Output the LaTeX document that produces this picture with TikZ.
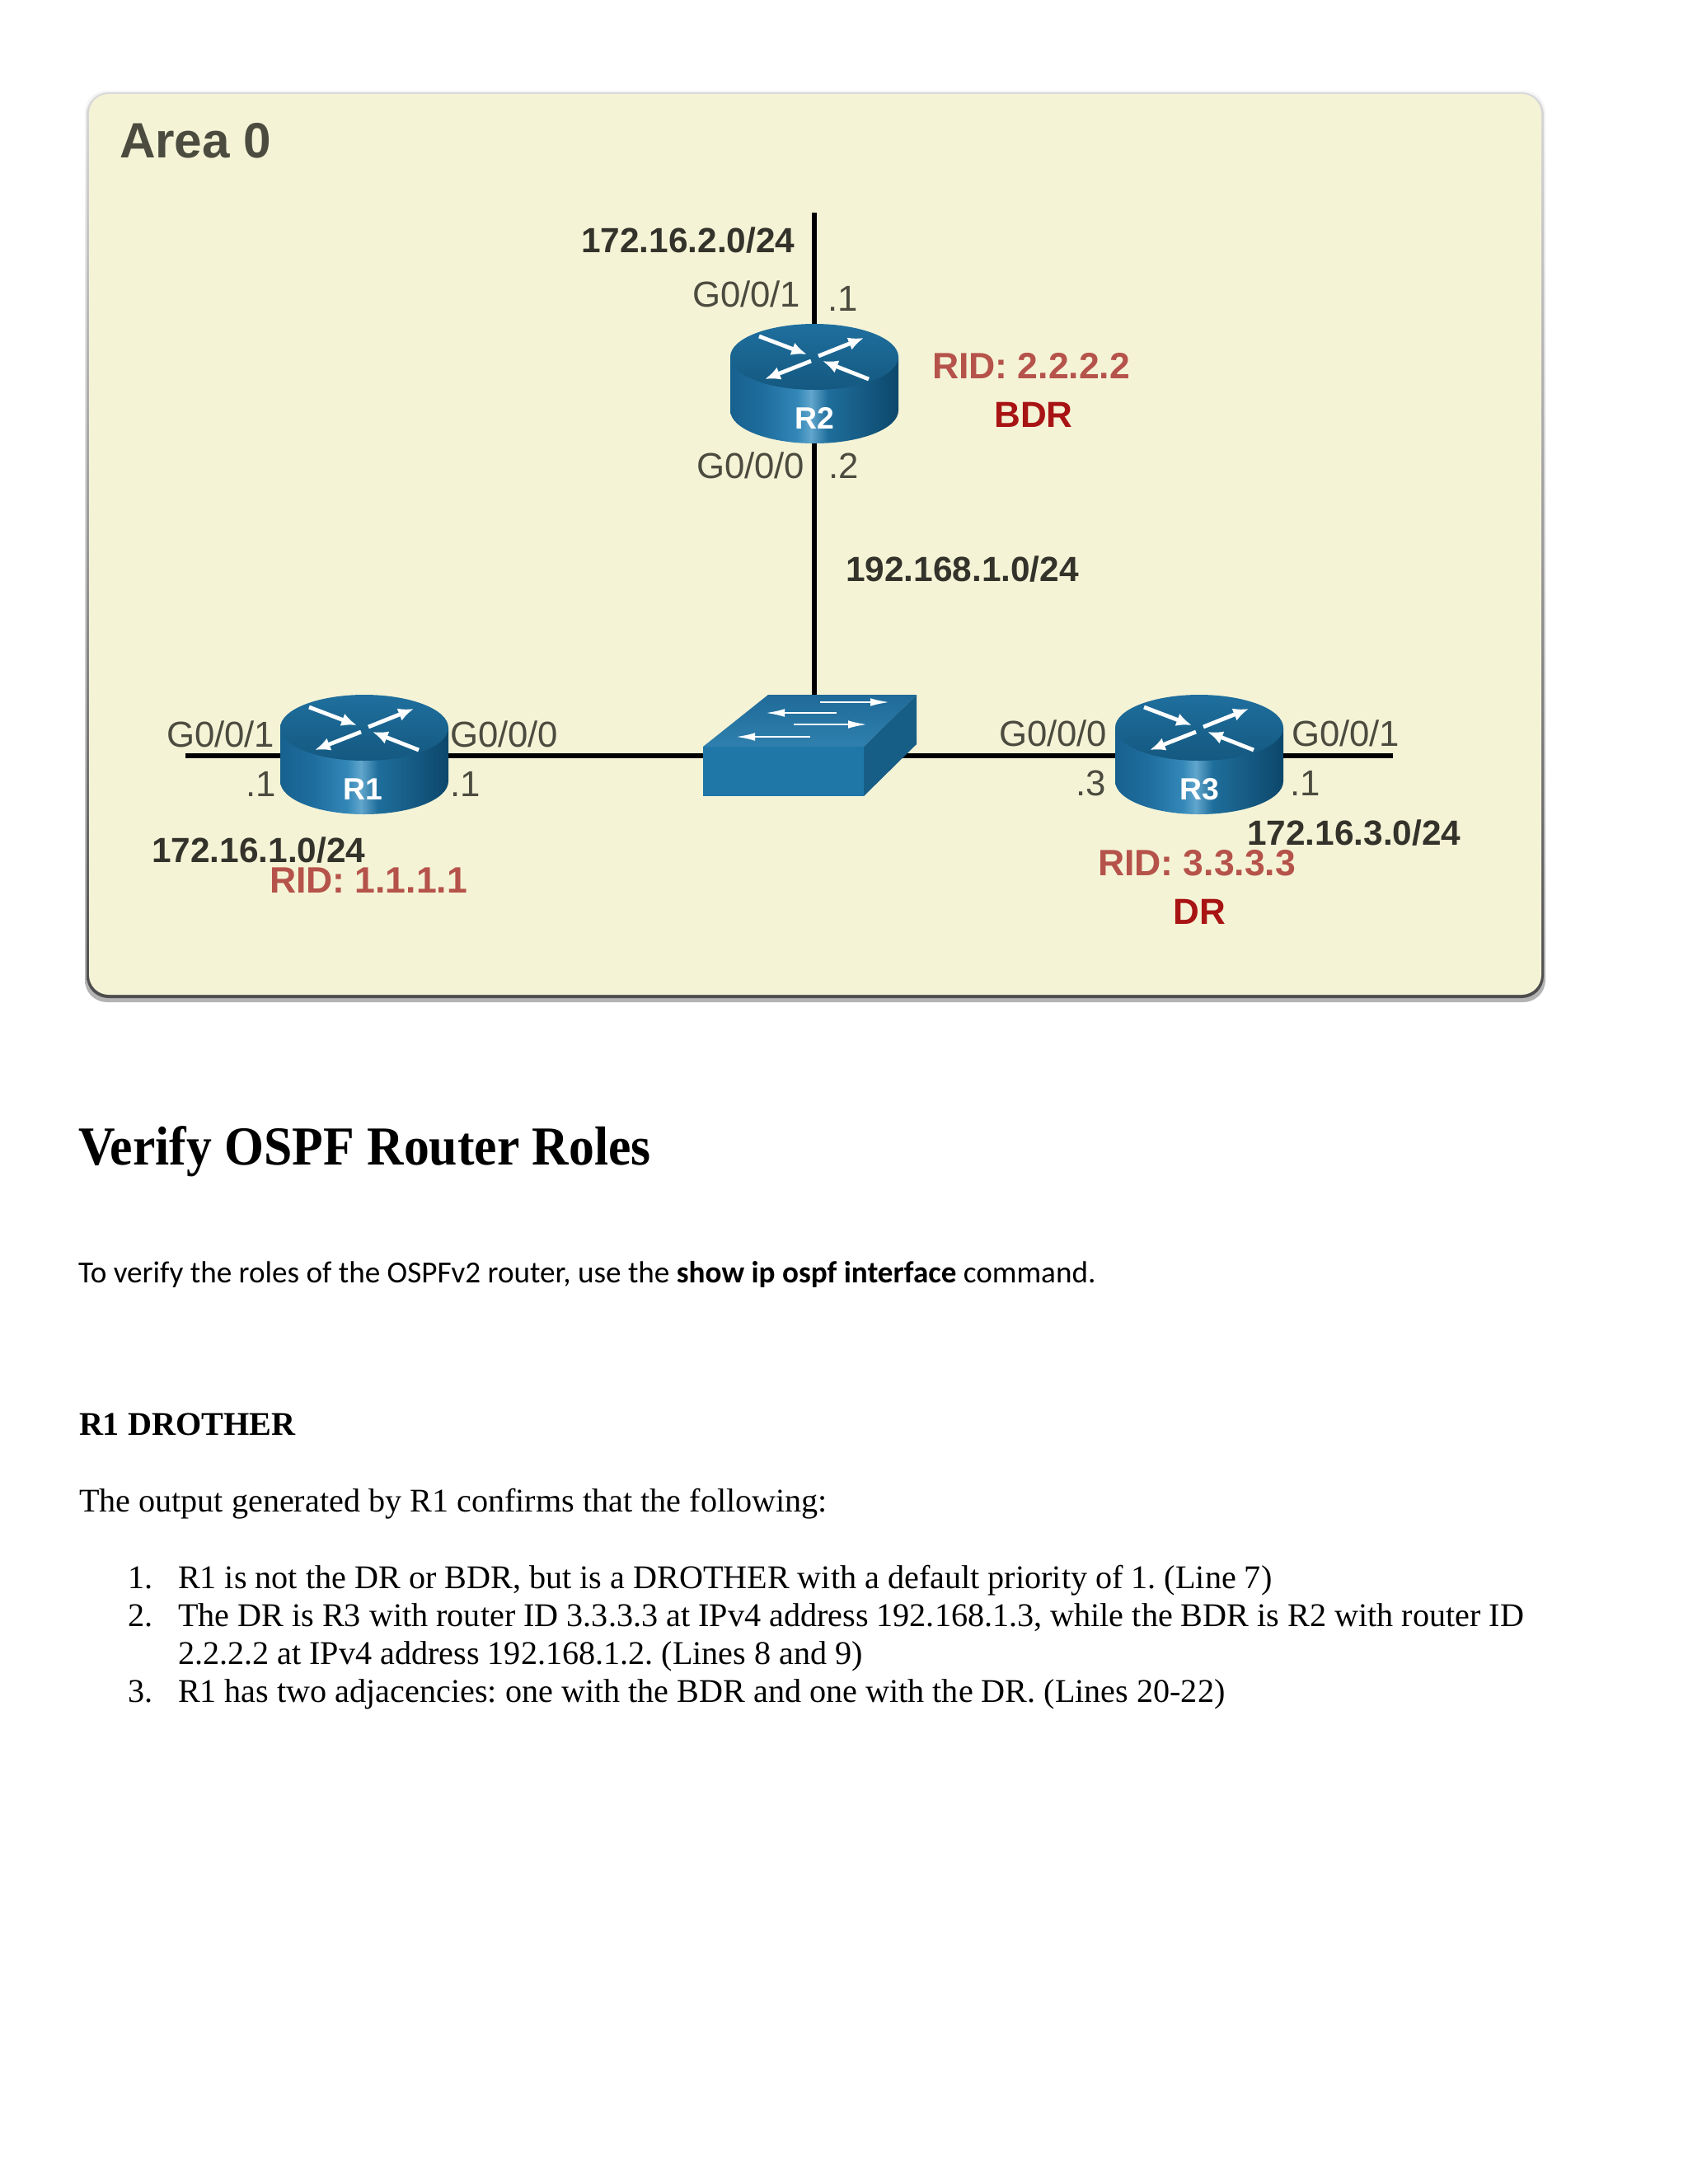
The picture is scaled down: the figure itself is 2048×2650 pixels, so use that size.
\documentclass[tikz,border=0pt]{standalone}
\usepackage{fontspec}
\setmainfont{Liberation Serif}
\newfontfamily\diagfont{Liberation Sans}
\newfontfamily\bodyfont{Carlito}
\newfontfamily\headfont[FakeStretch=0.925]{Liberation Serif}
\usetikzlibrary{arrows.meta}
\definecolor{panelc}{HTML}{F5F3D6}
\definecolor{ink}{HTML}{4B4B3F}
\definecolor{inkb}{HTML}{33332B}
\definecolor{ridc}{HTML}{B5534B}
\definecolor{rolec}{HTML}{A81414}
\definecolor{blued}{HTML}{0F4F74}
\definecolor{bluem}{HTML}{1F6F9E}
\definecolor{swfront}{HTML}{1F77A8}
\definecolor{swtopa}{HTML}{1F6A98}
\definecolor{swtopb}{HTML}{2F80AE}
\definecolor{swside}{HTML}{175E86}
\pgfdeclarehorizontalshading{routerside}{100bp}{
  rgb(0bp)=(0.09,0.38,0.56);
  rgb(25bp)=(0.09,0.38,0.56);
  rgb(35bp)=(0.12,0.43,0.62);
  rgb(45bp)=(0.20,0.53,0.72);
  rgb(49bp)=(0.38,0.65,0.80);
  rgb(54bp)=(0.12,0.43,0.61);
  rgb(75bp)=(0.05,0.28,0.42);
  rgb(100bp)=(0.05,0.28,0.42)}
\frenchspacing
\tikzset{
  x=0.375pt,y=-0.375pt,
  lbl/.style={anchor=base west,inner sep=0pt,outer sep=0pt},
  ctr/.style={anchor=base,inner sep=0pt,outer sep=0pt},
  port/.style={text=ink,font=\diagfont\fontsize{16.4}{16.4}\selectfont},
  net/.style={text=inkb,font=\diagfont\bfseries\fontsize{15.9}{15.9}\selectfont},
  rid/.style={text=ridc,font=\diagfont\bfseries\fontsize{16.7}{16.7}\selectfont},
  role/.style={text=rolec,font=\diagfont\bfseries\fontsize{16.5}{16.5}\selectfont},
  rname/.style={text=white,font=\diagfont\bfseries\fontsize{14}{14}\selectfont},
  body/.style={lbl,font=\fontsize{15.06}{15.06}\selectfont},
  hub/.style={inner sep=0pt,minimum size=0pt,shape=coordinate},
  wire/.style={draw=black,line width=2.4pt},
  flow/.style={draw=white,line width=1.8pt,-{Latex[length=7pt,width=6pt]}},
  swflow/.style={draw=white,line width=1pt,-{Latex[length=9pt,width=3.6pt]}},
  pics/routericon/.style={code={
    % coordinates: origin = centre of the top ellipse
    \shade[shading=routerside]
      (-102,0) -- (-102,65) arc[start angle=180,end angle=0,x radius=102,y radius=40] -- (102,0) -- cycle;
    \shade[top color=bluem,bottom color=blued!70!bluem] (0,0) ellipse[x radius=102,y radius=40];
    \draw[flow] (-67,-25) -- (-9,-3);
    \draw[flow] (5,-1) -- (60,-23);
    \draw[flow] (-4,5) -- (-60,27);
    \draw[flow] (66,27) -- (10,5);
  }}
}
\begin{document}
\begin{tikzpicture}
\useasboundingbox (0,0) rectangle (2048,2650);
\fill[white] (0,0) rectangle (2048,2650);
% panel
\shade[top color=black!4,bottom color=black!30,rounded corners=10pt] (103,110) rectangle (1875,1216);
\shade[top color=black!15,bottom color=black!70,middle color=black!40,rounded corners=10pt] (105,112) rectangle (1873,1211);
\fill[panelc,rounded corners=9pt] (108,114) rectangle (1870,1207);
% anchors
\node[hub] (R1) at (442,917) {};
\node[hub] (R2) at (988,465) {};
\node[hub] (R3) at (1455,917) {};
\node[hub] (SW) at (988,917) {};
\node[hub] (SWT) at (988,843) {};
\coordinate (endR2) at (988,258);
\coordinate (endR1) at (225,917);
\coordinate (endR3) at (1690,917);
% connectors
\draw[wire] (endR2) -- (R2);
\draw[wire] (R2) -- (SWT);
\draw[wire] (endR1) -- (R1);
\draw[wire] (R1) -- (SW);
\draw[wire] (SW) -- (R3);
\draw[wire] (R3) -- (endR3);
% routers
\pic at (442,883) {routericon};
\pic at (988,433) {routericon};
\pic at (1455,883) {routericon};
% switch
\shade[top color=swtopa,bottom color=swtopb] (853,906) -- (932,843) -- (1112,843) -- (1048,906) -- cycle;
\fill[swside] (1048,906) -- (1112,843) -- (1112,903) -- (1048,966) -- cycle;
\fill[swfront] (853,906) rectangle (1048,966);
\draw[swflow] (995,852) -- (1080,852);
\draw[swflow] (1015,865) -- (928,865);
\draw[swflow] (963,879) -- (1053,879);
\draw[swflow] (983,894) -- (892,894);
% diagram labels
\node[lbl,text=ink,font=\diagfont\bfseries\fontsize{22.6}{22.6}\selectfont] (area) at (145,191) {Area 0};
\node[lbl,net] (n2) at (705,306) {172.16.2.0/24};
\node[lbl,port] (p2a) at (840,372) {G0/0/1};
\node[lbl,port] (a2a) at (1004,377) {.1};
\node[lbl,port] (p2b) at (845,580) {G0/0/0};
\node[lbl,port] (a2b) at (1005,580) {.2};
\node[ctr,rname] (t2) at (988,520) {R2};
\node[lbl,rid] (rid2) at (1131,459) {RID: 2.2.2.2};
\node[ctr,role] (role2) at (1254,518) {BDR};
\node[lbl,net] (nc) at (1026,705) {192.168.1.0/24};
\node[lbl,port] (p1a) at (202,906) {G0/0/1};
\node[lbl,port] (p1b) at (546,906) {G0/0/0};
\node[lbl,port] (a1a) at (298,966) {.1};
\node[lbl,port] (a1b) at (546,966) {.1};
\node[ctr,rname] (t1) at (440,970) {R1};
\node[lbl,net] (n1) at (184,1046) {172.16.1.0/24};
\node[lbl,rid] (rid1) at (327,1083) {RID: 1.1.1.1};
\node[lbl,port] (p3a) at (1212,905) {G0/0/0};
\node[lbl,port] (p3b) at (1567,905) {G0/0/1};
\node[lbl,port] (a3a) at (1305,965) {.3};
\node[lbl,port] (a3b) at (1565,965) {.1};
\node[ctr,rname] (t3) at (1455,970) {R3};
\node[lbl,net] (n3) at (1513,1025) {172.16.3.0/24};
\node[lbl,rid] (rid3) at (1332,1062) {RID: 3.3.3.3};
\node[ctr,role] (role3) at (1455,1121) {DR};
% text below
\node[lbl,font=\headfont\bfseries\fontsize{25}{25}\selectfont] (head) at (95,1413) {Verify OSPF Router Roles};
\node[lbl,font=\bodyfont\fontsize{13.93}{13.93}\selectfont] (intro) at (95,1556) {To verify the roles of the OSPFv2 router, use the \textbf{show ip ospf interface} command.};
\node[body,font=\bfseries\fontsize{15.06}{15.06}\selectfont] (sub) at (96,1741) {R1 DROTHER};
\node[body] (para) at (96,1834) {The output generated by R1 confirms that the following:};
\node[body] (n1i) at (155,1927) {1.};
\node[body] (l1) at (216,1927) {R1 is not the DR or BDR, but is a DROTHER with a default priority of 1. (Line 7)};
\node[body] (n2i) at (155,1973) {2.};
\node[body] (l2) at (216,1973) {The DR is R3 with router ID 3.3.3.3 at IPv4 address 192.168.1.3, while the BDR is R2 with router ID};
\node[body] (l2b) at (216,2019) {2.2.2.2 at IPv4 address 192.168.1.2. (Lines 8 and 9)};
\node[body] (n3i) at (155,2065) {3.};
\node[body] (l3) at (216,2065) {R1 has two adjacencies: one with the BDR and one with the DR. (Lines 20-22)};
\end{tikzpicture}
\end{document}
